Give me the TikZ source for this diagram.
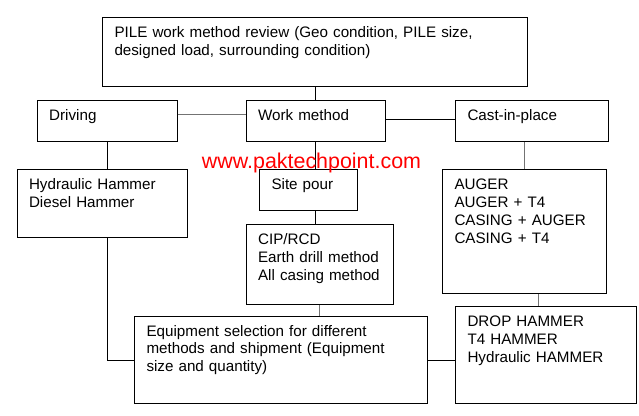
\documentclass[tikz,border=0pt]{standalone}
\usepackage{fontspec}
\setmainfont{Liberation Sans}
\usetikzlibrary{positioning,calc}
\definecolor{wmred}{HTML}{FF0000}
\tikzset{
  % boxes
  pbox/.style={draw=black,line width=1bp,anchor=north west,align=left,
               inner xsep=12bp,inner ysep=9bp,text height=11bp,
               font=\fontsize{15.25}{17.8}\selectfont},
  % connectors
  pl/.style={draw=black,line width=1bp},
  plg/.style={draw=black!55,line width=1bp},
  wm/.style={font=\fontsize{21.5}{24}\selectfont,text=wmred,inner sep=0pt,anchor=base},
}
\begin{document}
\begin{tikzpicture}[x=1bp,y=-1bp]
\useasboundingbox (0,0) rectangle (639,415);
  \node[pbox,text width=401bp,text depth=40bp] (review) at (102,17.3)
    {PILE work method review (Geo condition, PILE size,\\ designed load, surrounding condition)};
  \node[pbox,text width=116bp,text depth=12bp] (driving) at (36.7,100.3) {Driving};
  \node[pbox,text width=115.4bp,text depth=12bp] (method) at (245.6,100.3) {Work method};
  \node[pbox,text width=129bp,text depth=12bp] (cast) at (455,100.3) {Cast-in-place};
  \node[pbox,text width=146.5bp,text depth=38.7bp] (hammer) at (16.5,169.3)
    {Hydraulic Hammer\\ Diesel Hammer};
  \node[pbox,text width=74bp,text depth=12bp] (pour) at (259,169.3) {Site pour};
  \node[pbox,text width=140bp,text depth=94.7bp] (auger) at (442,169.3)
    {AUGER\\ AUGER + T4\\ CASING + AUGER\\ CASING + T4};
  \node[pbox,text width=123bp,text depth=51bp] (cip) at (245.6,224.3)
    {CIP/RCD\\ Earth drill method\\ All casing method};
  \node[pbox,text width=269bp,text depth=58.6bp] (equip) at (134,315.7)
    {Equipment selection for different\\ methods and shipment (Equipment\\ size and quantity)};
  \node[pbox,text width=156.6bp,text depth=68bp] (drop) at (455,306.3)
    {DROP HAMMER\\ T4 HAMMER\\ Hydraulic HAMMER};
  % links
  \draw[pl] (method.north) -- (method.north |- review.south);
  \draw[plg] (driving.east |- 0,114.3) -- (method.west |- 0,114.3);
  \draw[pl] (method.east |- 0,119) -- (cast.west |- 0,119);
  \draw[pl] (driving.south) -- (driving.south |- hammer.north);
  \draw[pl] (method.south) -- (method.south |- pour.north);
  \draw[plg] (cast.south -| 524,0) -- (auger.north -| 524,0);
  \draw[pl] (method.south |- pour.south) -- (method.south |- cip.north);
  \draw[plg] (cip.south) -- (cip.south |- equip.north);
  \draw[pl] (driving.south |- hammer.south) |- (equip.west);
  \draw[pl] (equip.east) -- (equip.east -| drop.west);
  \draw[plg] (auger.south -| 538,0) -- (drop.north -| 538,0);
  \node[wm] (site) at (311.5,168.3) {www.paktechpoint.com};
\end{tikzpicture}
\end{document}
